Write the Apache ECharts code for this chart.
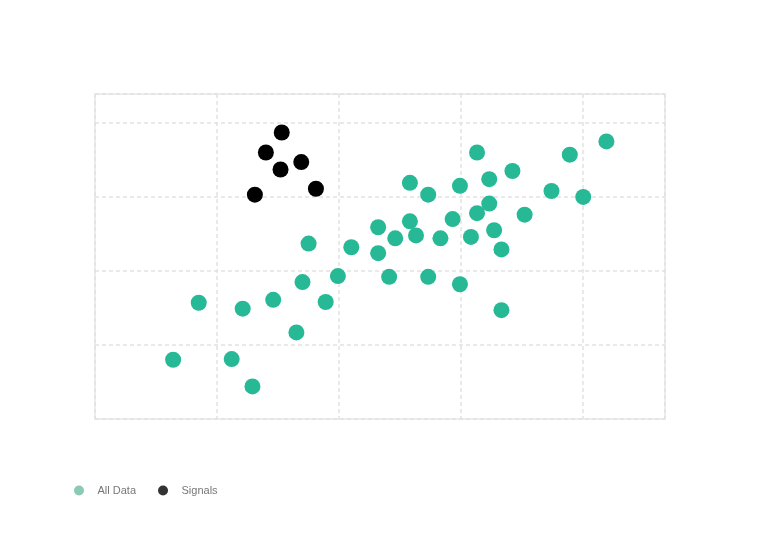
<!DOCTYPE html>
<html>
<head>
<meta charset="utf-8">
<title>Scatter - All Data / Signals</title>
<script src="https://cdn.jsdelivr.net/npm/echarts@6/dist/echarts.min.js"></script>
<style>
  html, body { margin: 0; padding: 0; background: #fff; }
  #chart { width: 768px; height: 535px; }
</style>
</head>
<body>
<div id="chart"></div>
<script>
// values (x, y)
const allDataX = [6.4, 8.5, 11.2, 12.1, 12.9, 14.6, 16.5, 17.0, 17.5, 18.9,
  19.9, 21.0, 23.2, 23.2, 24.1, 24.6, 25.8, 25.8, 26.3, 27.3,
  27.3, 28.3, 29.3, 29.9, 29.9, 30.8, 31.3, 31.3, 32.3, 32.3,
  32.7, 33.3, 33.3, 34.2, 35.2, 37.4, 38.9, 40.0, 41.9]
const allDataY = [8.0, 15.7, 8.1, 14.9, 4.4, 16.1, 11.7, 18.5, 23.7, 15.8,
  19.3, 23.2, 25.9, 22.4, 19.2, 24.4, 31.9, 26.7, 24.8, 30.3,
  19.2, 24.4, 27.0, 31.5, 18.2, 24.6, 36.0, 27.8, 32.4, 29.1,
  25.5, 22.9, 14.7, 33.5, 27.6, 30.8, 35.7, 30.0, 37.5]
const signalsX = [15.3, 14.0, 16.9, 15.2, 18.1, 13.1]
const signalsY = [38.7, 36.0, 34.7, 33.7, 31.1, 30.3]

const pairs = (xs, ys) => xs.map((x, i) => [x, ys[i]])

const chart = echarts.init(document.getElementById('chart'))

const option = {
  animation: false,
  grid: {
    left: 95,
    right: 103,
    top: 94,
    bottom: 116,
    show: true,
    borderColor: '#e8e8e8',
    borderWidth: 1.5
  },
  legend: {
    left: 69,
    top: 480,
    itemWidth: 27,
    itemHeight: 10,
    itemGap: 22,
    icon: 'circle',
    textStyle: {
      color: '#777',
      fontSize: 11,
      fontFamily: 'Liberation Sans, Arial, sans-serif'
    },
    data: [
      { name: 'All Data', itemStyle: { color: '#8ccab4' } },
      { name: 'Signals', itemStyle: { color: '#333' } }
    ]
  },
  xAxis: {
    type: 'value',
    min: 0,
    max: 46.7,
    interval: 10,
    axisLine: { show: false },
    axisTick: { show: false },
    axisLabel: { show: false },
    splitLine: {
      lineStyle: { color: '#e2e2e2', type: [4, 3], width: 1.5 }
    }
  },
  yAxis: {
    type: 'value',
    min: 0,
    max: 43.9,
    interval: 10,
    axisLine: { show: false },
    axisTick: { show: false },
    axisLabel: { show: false },
    splitLine: {
      lineStyle: { color: '#e2e2e2', type: [4, 3], width: 1.5 }
    }
  },
  series: [
    {
      name: 'All Data',
      type: 'scatter',
      symbolSize: 16,
      itemStyle: { color: '#27b995', opacity: 1 },
      data: pairs(allDataX, allDataY)
    },
    {
      name: 'Signals',
      type: 'scatter',
      symbolSize: 16,
      itemStyle: { color: '#000', opacity: 1 },
      data: pairs(signalsX, signalsY)
    }
  ]
}

chart.setOption(option)
</script>
</body>
</html>
